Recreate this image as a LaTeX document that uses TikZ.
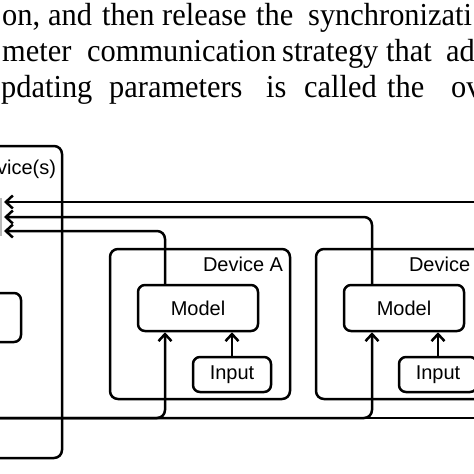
\documentclass[tikz,border=0pt]{standalone}
\usepackage{fontspec}
\setmainfont{Liberation Serif}
\setsansfont{Liberation Sans}
\usetikzlibrary{arrows.meta}
\tikzstyle{device}=[shape=rectangle,draw,rounded corners=8pt,line width=2.5pt,inner sep=0pt]
\tikzstyle{block}=[shape=rectangle,draw,rounded corners=7pt,line width=2.5pt,inner sep=0pt,font=\sffamily\fontsize{20}{24}\selectfont]
\tikzstyle{devlabel}=[anchor=base east,inner sep=0pt,font=\sffamily\fontsize{20}{24}\selectfont]
\tikzstyle{wire}=[->,line width=2.5pt,rounded corners=8pt]
\tikzstyle{plainwire}=[line width=2.5pt,rounded corners=8pt]
\tikzstyle{word}=[anchor=base west,inner sep=0pt,font=\fontsize{32}{36}\selectfont]
\newcommand{\narrow}[1]{\scalebox{0.95}[1]{#1}}

\begin{document}
\begin{tikzpicture}[x=1pt,y=-1pt,>={Straight Barb[length=7pt,width=13pt]}]
\useasboundingbox (0,0) rectangle (474,474);
\clip (0,0) rectangle (474,474);
% text above the figure
\foreach \x/\w [count=\i] in {2/{on,},48/and,102/then,162/release,256/the,308/synchronizati}
    \node[word] (la\i) at (\x,25) {\narrow{\w}};
\foreach \x/\w [count=\i] in {2/meter,87/communication,282/strategy,386/that,446/ad}
    \node[word] (lb\i) at (\x,61.5) {\narrow{\w}};
\foreach \x/\w [count=\i] in {1/pdating,109/parameters,266/is,304/called,387/the,451/ov}
    \node[word] (lc\i) at (\x,97) {\narrow{\w}};
% server
\fill[gray!55] (-5,198) rectangle (2,236);
\node[device,minimum width=162pt,minimum height=312pt] (srv) at (-19,302) {};
\node[devlabel] (srvlabel) at ([shift={(-7pt,-30pt)}]srv.north east) {Device(s)};
\node[block,minimum width=81pt,minimum height=49pt] (srvmodel) at (-19.5,317.5) {};
% devices
\node[device,minimum width=180pt,minimum height=150pt] (devA) at (200,324) {};
\node[devlabel] (devAlabel) at ([shift={(-8pt,-24pt)}]devA.north east) {Device A};
\node[block,minimum width=120pt,minimum height=46pt] (mA) at (198,308) {Model};
\node[block,minimum width=78pt,minimum height=35pt] (iA) at (232,374.5) {Input};
\node[device,minimum width=180pt,minimum height=150pt] (devB) at (406,324) {};
\node[devlabel] (devBlabel) at ([shift={(-8pt,-24pt)}]devB.north east) {Device B};
\node[block,minimum width=120pt,minimum height=46pt] (mB) at (404,308) {Model};
\node[block,minimum width=78pt,minimum height=35pt] (iB) at (438,374.5) {Input};
% pushed parameters
\coordinate (pA) at (4,231);
\coordinate (pB) at (4,217);
\coordinate (pC) at (4,202);
\coordinate (fromC) at (490,202);
\draw[wire] ([xshift=-33pt]mA.north) |- (pA);
\draw[wire] ([xshift=-32pt]mB.north) |- (pB);
\draw[wire] (fromC) -- (pC);
% pulled parameters
\coordinate (pull) at (-10,418);
\coordinate (toC) at (490,418);
\draw[wire] (pull) -| ([xshift=-33pt]mA.south);
\draw[wire] (pull) -| ([xshift=-32pt]mB.south);
\draw[plainwire] (pull) -- (toC);
\draw[wire] (iA.north) -- (iA.north |- mA.south);
\draw[wire] (iB.north) -- (iB.north |- mB.south);
\end{tikzpicture}
\end{document}
